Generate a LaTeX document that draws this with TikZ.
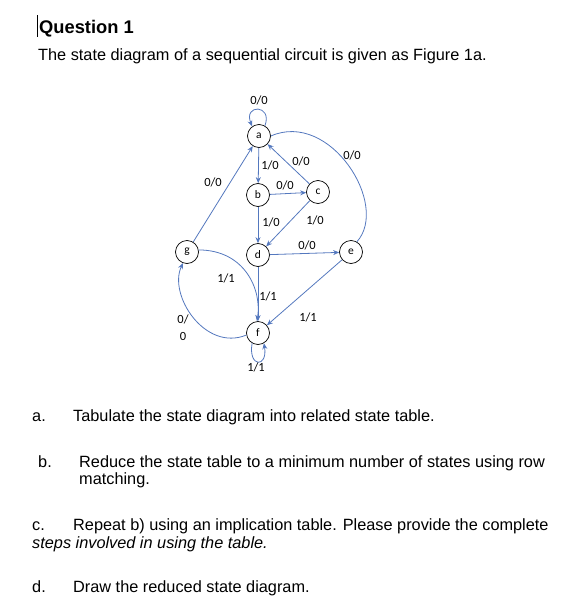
\documentclass[tikz,border=0pt]{standalone}
\usepackage{fontspec}
\setmainfont{Liberation Sans}
\newfontfamily\diafont{Carlito}
\usetikzlibrary{arrows.meta}
\definecolor{edgeblue}{RGB}{84,120,190}
\tikzset{
  st/.style={draw=black,line width=0.7pt,circle,minimum size=23pt,inner sep=0pt,font=\diafont\fontsize{11.5}{12}\selectfont},
  lbl/.style={font=\diafont\fontsize{12.5}{14}\selectfont,inner sep=0pt},
  edge/.style={draw=edgeblue,line width=0.8pt,-{Stealth[length=6pt,width=5pt]}},
  plain/.style={draw=edgeblue,line width=0.8pt},
  txt/.style={anchor=base west,inner sep=0pt,font=\fontsize{16.3}{19}\selectfont}
}
\begin{document}
\begin{tikzpicture}[x=1pt,y=-1pt]
\useasboundingbox (0,0) rectangle (569,608);
% header
\draw[line width=0.5pt] (37,15) -- (37,37);
\node[txt,font=\fontsize{18.3}{21}\bfseries] (q) at (39,33) {Question 1};
\node[txt] (intro) at (38,60) {The state diagram of a sequential circuit is given as Figure 1a.};
% states
\node[st] (a) at (259,136) {a};
\node[st] (b) at (258,195) {b};
\node[st] (c) at (318,192) {c};
\node[st] (d) at (258,255) {d};
\node[st] (e) at (351,252) {e};
\node[st] (g) at (187,252) {g};
\node[st] (f) at (258,333) {f};
% edges
\draw[edge] (a.60) .. controls (273,104) and (243,104) .. (a.125);
\draw[edge] (a) -- (b);
\draw[edge] (c) -- (a);
\draw[plain] (a.east) .. controls (330,110) and (390,205) .. (e.60);
\draw[edge] (g) -- (a);
\draw[edge] (b) -- (c);
\draw[edge] (b) -- (d);
\draw[edge] (c) -- (d);
\draw[edge] (d) -- (e);
\draw[edge] (d) -- (f);
\draw[edge] (e) -- (f);
\draw[edge] (g.10) .. controls (245,250) and (262,290) .. (f.95);
\draw[edge] (f.190) .. controls (205,352) and (168,295) .. (g.250);
\draw[edge] (f.240) .. controls (248,368) and (268,368) .. (f.300);
% labels
\node[lbl] (l1) at (259,100) {0/0};
\node[lbl] (l2) at (270,165) {1/0};
\node[lbl] (l3) at (301,161) {0/0};
\node[lbl] (l4) at (352,155) {0/0};
\node[lbl] (l5) at (213,182) {0/0};
\node[lbl] (l6) at (285,185) {0/0};
\node[lbl] (l7) at (271,222) {1/0};
\node[lbl] (l8) at (315,220) {1/0};
\node[lbl] (l9) at (307,245) {0/0};
\node[lbl] (l10) at (226,278) {1/1};
\node[lbl] (l11) at (268,296) {1/1};
\node[lbl] (l12) at (308,317) {1/1};
\node[lbl] (l13) at (183,319) {0/};
\node[lbl] (l14) at (183,336) {0};
\node[lbl] (l15) at (256,367) {1/1};
% questions
\node[txt] (ia) at (32,421) {a.};
\node[txt] (ta) at (73,421) {Tabulate the state diagram into related state table.};
\node[txt] (ib) at (38,467) {b.};
\node[txt] (tb) at (79,467) {Reduce the state table to a minimum number of states using row};
\node[txt] (tb2) at (79,484) {matching.};
\node[txt] (ic) at (32,530) {c.};
\node[txt] (tc) at (73,530) {Repeat b) using an implication table. Please provide the complete};
\node[txt,font=\fontsize{16.3}{19}\itshape] (tc2) at (32,548) {steps involved in using the table.};
\node[txt] (id) at (32,592) {d.};
\node[txt] (td) at (73,592) {Draw the reduced state diagram.};
\end{tikzpicture}
\end{document}
